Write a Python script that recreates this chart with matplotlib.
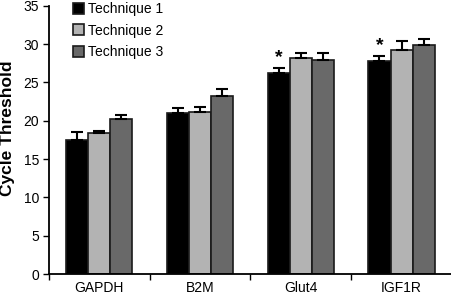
import matplotlib
matplotlib.use("Agg")
import matplotlib.pyplot as plt
import numpy as np

plt.rcParams['font.family'] = ['Liberation Sans', 'DejaVu Sans']

categories = ["GAPDH", "B2M", "Glut4", "IGF1R"]
series_names = ["Technique 1", "Technique 2", "Technique 3"]
t1 = [17.5, 21.0, 26.2, 27.8]
t2 = [18.4, 21.2, 28.2, 29.3]
t3 = [20.2, 23.2, 27.9, 29.9]
t1_err = [1.0, 0.7, 0.7, 0.6]
t2_err = [0.3, 0.6, 0.7, 1.1]
t3_err = [0.5, 1.0, 0.9, 0.8]
star_on_t1 = [False, False, True, True]
y_ticks = [0, 5, 10, 15, 20, 25, 30, 35]

colors = ["#000000", "#b3b3b3", "#696969"]
values = [t1, t2, t3]
errs = [t1_err, t2_err, t3_err]

fig = plt.figure(figsize=(4.52, 2.94), dpi=100)
ax = fig.add_axes([0.108, 0.068, 0.892, 0.912])

x = np.arange(len(categories))
w = 0.22
for i, (vals, er, c, name) in enumerate(zip(values, errs, colors, series_names)):
    pos = x + (i - 1) * w
    ax.bar(pos, vals, width=w, color=c, edgecolor="#1a1a1a", linewidth=1.2,
           label=name, zorder=2)
    ax.errorbar(pos, vals, yerr=[np.zeros(len(vals)), er], fmt="none",
                ecolor="black", elinewidth=1.5, capsize=4, capthick=1.5, zorder=3)

for j, s in enumerate(star_on_t1):
    if s:
        ax.text(x[j] - w, t1[j] + t1_err[j] + 0.3, "*", ha="center", va="bottom",
                fontsize=14, fontweight="bold")

ax.set_xlim(-0.5, 3.5)
ax.set_ylim(0, 35)
ax.set_yticks(y_ticks)
ax.set_xticks(x)
ax.set_xticklabels(categories, fontsize=10)
ax.set_xticks([-0.5, 0.5, 1.5, 2.5], minor=True)
ax.tick_params(axis="x", which="major", length=0, pad=5)
ax.tick_params(axis="x", which="minor", length=4, width=1, direction="out")
ax.tick_params(axis="y", labelsize=10, length=4, width=1, direction="out", pad=3)
for sp in ["top", "right"]:
    ax.spines[sp].set_visible(False)
ax.spines["left"].set_linewidth(1.3)
ax.spines["bottom"].set_linewidth(1.3)
ax.set_ylabel("Cycle Threshold", fontsize=12.5, fontweight="bold")
ax.yaxis.set_label_coords(-0.083, 0.545)

leg = ax.legend(loc="upper left", bbox_to_anchor=(0.045, 1.035), frameon=False,
                fontsize=10, handlelength=0.85, handleheight=0.85, handletextpad=0.25,
                labelspacing=0.55, borderaxespad=0)

fig.savefig("out.png", dpi=100)
